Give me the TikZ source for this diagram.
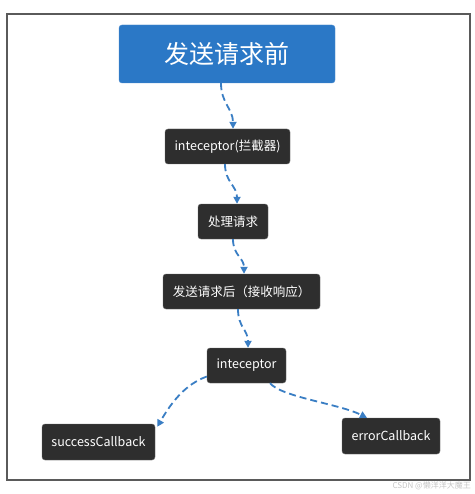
\documentclass[tikz,border=0pt]{standalone}
\usepackage{fontspec}
\setmainfont{Noto Sans CJK SC}
\usetikzlibrary{arrows.meta}
\definecolor{bluebox}{HTML}{2B78C6}
\definecolor{darkbox}{HTML}{2E2E2E}
\definecolor{arrowblue}{HTML}{3A7EC4}
\definecolor{framegray}{HTML}{5A5A5A}
\tikzset{
  topbox/.style={draw=bluebox!85!white, fill=bluebox, rounded corners=3pt, text=white,
    minimum width=216pt, minimum height=58pt, inner sep=0pt, font=\fontsize{25}{28}\selectfont},
  darkbox/.style={draw=darkbox!70!white, fill=darkbox, rounded corners=3pt, text=white,
    minimum height=35pt, inner sep=0pt, font=\fontsize{12.5}{14}\selectfont},
  flow/.style={draw=arrowblue, line width=1.8pt, dash pattern=on 7pt off 4pt,
    -{Triangle[length=7pt,width=7pt]}},
}
\begin{document}
\begin{tikzpicture}[x=1pt,y=-1pt]
\useasboundingbox (0,0) rectangle (474,494);
\fill[white] (0,0) rectangle (474,494);
\draw[framegray, line width=1.3pt] (7,14) rectangle (470,480);

\node[topbox] (top) at (227,54) {发送请求前};
\node[darkbox, minimum width=125pt] (icpt) at (227.5,146.5) {inteceptor(拦截器)};
\node[darkbox, minimum width=70pt] (proc) at (233,221.5) {处理请求};
\node[darkbox, minimum width=157pt] (after) at (241.5,291.5) {发送请求后（接收响应）};
\node[darkbox, minimum width=79pt] (icpt2) at (246.5,365.5) {inteceptor};
\node[darkbox, minimum width=113pt, minimum height=36pt] (succ) at (98.5,442) {successCallback};
\node[darkbox, minimum width=98pt, minimum height=36pt] (err) at (391,436) {errorCallback};

\node[text=gray!45, font=\fontsize{8}{9}\selectfont, anchor=east, inner sep=0pt] (wm) at (471,486) {CSDN @懒洋洋大魔王};

\draw[flow] ([xshift=-6pt]top.south) .. controls +(0,20) and +(0,-20) .. ([xshift=5.5pt]icpt.north);
\draw[flow] ([xshift=-2.5pt]icpt.south) .. controls +(0,18) and +(0,-18) .. ([xshift=4pt]proc.north);
\draw[flow] (proc.south) .. controls +(0,16) and +(0,-16) .. ([xshift=2.5pt]after.north);
\draw[flow] ([xshift=-3.5pt]after.south) .. controls +(0,18) and +(0,-18) .. ([xshift=1.5pt]icpt2.north);
\draw[flow] ([yshift=-11pt]icpt2.west) .. controls +(-22,8) and +(14,-24) .. ([xshift=2pt,yshift=-3pt]succ.north east);
\draw[flow] ([xshift=23.5pt]icpt2.south) .. controls +(12,14) and +(-28,-14) .. ([xshift=-24pt]err.north);
\end{tikzpicture}
\end{document}
